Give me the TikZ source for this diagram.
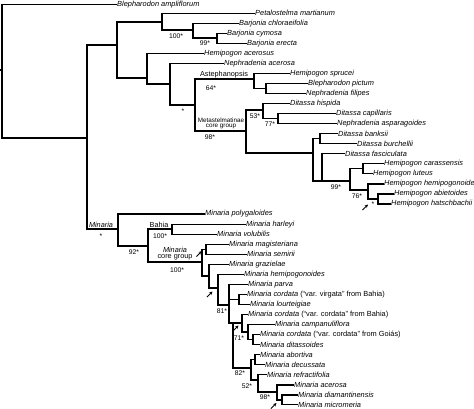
\documentclass[tikz,border=0pt]{standalone}
\usepackage{fontspec}
\setmainfont{Liberation Sans}
\usetikzlibrary{arrows.meta}
\begin{document}
\begin{tikzpicture}[x=1pt,y=-1pt,
  br/.style={line width=1.2pt, line cap=rect, line join=miter},
  leaf/.style={anchor=west, inner sep=1pt, font=\fontsize{7.4}{8}\selectfont\itshape},
  supv/.style={inner sep=0pt, font=\fontsize{6.8}{7}\selectfont},
  grp/.style={inner sep=0pt, font=\fontsize{7.3}{8}\selectfont},
  grpsmall/.style={inner sep=0pt, font=\fontsize{6.3}{7}\selectfont},
  arw/.style={-{Stealth[length=3.4pt,width=3.2pt]}, line width=0.9pt}]
\useasboundingbox (0,0) rectangle (474,408);
% internal nodes
\coordinate (R) at (2,70);
\coordinate (A) at (87,138);
\coordinate (B) at (117,45);
\coordinate (C) at (162,22);
\coordinate (E) at (193,30);
\coordinate (F) at (217,38);
\coordinate (D) at (147,78);
\coordinate (G) at (170,84);
\coordinate (H) at (195,105);
\coordinate (Ast) at (254,79);
\coordinate (I) at (266,88.4);
\coordinate (Met) at (246,131);
\coordinate (J) at (263,110);
\coordinate (Jb) at (278,118.5);
\coordinate (K) at (313,153);
\coordinate (Kb) at (320,138.7);
\coordinate (Kc) at (322,181);
\coordinate (Hm) at (350,181);
\coordinate (Hc) at (363,168.8);
\coordinate (Hd) at (368,190);
\coordinate (He) at (378,199);
\coordinate (Mi) at (118,229);
\coordinate (M92) at (148,246);
\coordinate (Bah) at (172,229);
\coordinate (Core) at (202,262);
\coordinate (Ms) at (206,249.2);
\coordinate (Ng) at (209,276);
\coordinate (Nh) at (218,288);
\coordinate (N81) at (229,305);
\coordinate (Nvl) at (239,299.5);
\coordinate (Nr) at (233,323);
\coordinate (N71) at (242,323);
\coordinate (Ncg) at (248,332);
\coordinate (Ngd) at (253,339.7);
\coordinate (N82) at (251,368);
\coordinate (Nad) at (255,359.8);
\coordinate (N52) at (258,380);
\coordinate (N98) at (277,392);
\coordinate (Ndm) at (282,400);
% leaves
\node[leaf] (L1) at (116,4.3) {Blepharodon ampliflorum};
\node[leaf] (L2) at (254,13.3) {Petalostelma martianum};
\node[leaf] (L3) at (238,23.3) {Barjonia chloraeifolia};
\node[leaf] (L4) at (226,33.3) {Barjonia cymosa};
\node[leaf] (L5) at (246,43.3) {Barjonia erecta};
\node[leaf] (L6) at (203,53.3) {Hemipogon acerosus};
\node[leaf] (L7) at (223,63.3) {Nephradenia acerosa};
\node[leaf] (L8) at (289,73.35) {Hemipogon sprucei};
\node[leaf] (L9) at (307,83.4) {Blepharodon pictum};
\node[leaf] (L10) at (305,93.45) {Nephradenia filipes};
\node[leaf] (L11) at (289,103.5) {Ditassa hispida};
\node[leaf] (L12) at (335,113.55) {Ditassa capillaris};
\node[leaf] (L13) at (336,123.6) {Nephradenia asparagoides};
\node[leaf] (L14) at (337,133.65) {Ditassa banksii};
\node[leaf] (L15) at (356,143.7) {Ditassa burchellii};
\node[leaf] (L16) at (344,153.75) {Ditassa fasciculata};
\node[leaf] (L17) at (383,163.8) {Hemipogon carassensis};
\node[leaf] (L18) at (372,173.85) {Hemipogon luteus};
\node[leaf] (L19) at (383,183.9) {Hemipogon hemipogonoides};
\node[leaf] (L20) at (393,193.95) {Hemipogon abietoides};
\node[leaf] (L21) at (390,204) {Hemipogon hatschbachii};
\node[leaf] (L22) at (204,214.05) {Minaria polygaloides};
\node[leaf] (L23) at (245,224.1) {Minaria harleyi};
\node[leaf] (L24) at (216,234.15) {Minaria volubilis};
\node[leaf] (L25) at (228,244.2) {Minaria magisteriana};
\node[leaf] (L26) at (246,254.25) {Minaria semirii};
\node[leaf] (L27) at (228,264.3) {Minaria grazielae};
\node[leaf] (L28) at (243,274.35) {Minaria hemipogonoides};
\node[leaf] (L29) at (247,284.4) {Minaria parva};
\node[leaf] (L30) at (246,294.45) {Minaria cordata {\upshape(``var. virgata'' from Bahia)}};
\node[leaf] (L31) at (249,304.5) {Minaria lourteigiae};
\node[leaf] (L32) at (247,314.55) {Minaria cordata {\upshape(``var. cordata'' from Bahia)}};
\node[leaf] (L33) at (274,324.6) {Minaria campanuliflora};
\node[leaf] (L34) at (259,334.65) {Minaria cordata {\upshape(``var. cordata'' from Goiás)}};
\node[leaf] (L35) at (259,344.7) {Minaria ditassoides};
\node[leaf] (L36) at (259,354.75) {Minaria abortiva};
\node[leaf] (L37) at (264,364.8) {Minaria decussata};
\node[leaf] (L38) at (266,374.85) {Minaria refractifolia};
\node[leaf] (L39) at (293,384.9) {Minaria acerosa};
\node[leaf] (L40) at (297,394.95) {Minaria diamantinensis};
\node[leaf] (L41) at (297,404.8) {Minaria micromeria};
% branches
\draw[br] (R) -- ++(-2,0);
\draw[br] (R) |- (L1.west); \draw[br] (R) |- (A);
\draw[br] (A) |- (B); \draw[br] (A) |- (Mi);
\draw[br] (B) |- (C); \draw[br] (B) |- (D);
\draw[br] (C) |- (L2.west); \draw[br] (C) |- (E);
\draw[br] (E) |- (L3.west); \draw[br] (E) |- (F);
\draw[br] (F) |- (L4.west); \draw[br] (F) |- (L5.west);
\draw[br] (D) |- (L6.west); \draw[br] (D) |- (G);
\draw[br] (G) |- (L7.west); \draw[br] (G) |- (H);
\draw[br] (H) |- (Ast); \draw[br] (H) |- (Met);
\draw[br] (Ast) |- (L8.west); \draw[br] (Ast) |- (I);
\draw[br] (I) |- (L9.west); \draw[br] (I) |- (L10.west);
\draw[br] (Met) |- (J); \draw[br] (Met) |- (K);
\draw[br] (J) |- (L11.west); \draw[br] (J) |- (Jb);
\draw[br] (Jb) |- (L12.west); \draw[br] (Jb) |- (L13.west);
\draw[br] (K) |- (Kb); \draw[br] (K) |- (Kc);
\draw[br] (Kb) |- (L14.west); \draw[br] (Kb) |- (L15.west);
\draw[br] (Kc) |- (L16.west); \draw[br] (Kc) |- (Hm);
\draw[br] (Hm) |- (Hc); \draw[br] (Hm) |- (Hd);
\draw[br] (Hc) |- (L17.west); \draw[br] (Hc) |- (L18.west);
\draw[br] (Hd) |- (L19.west); \draw[br] (Hd) |- (He);
\draw[br] (He) |- (L20.west); \draw[br] (He) |- (L21.west);
\draw[br] (Mi) |- (L22.west); \draw[br] (Mi) |- (M92);
\draw[br] (M92) |- (Bah); \draw[br] (M92) |- (Core);
\draw[br] (Bah) |- (L23.west); \draw[br] (Bah) |- (L24.west);
\draw[br] (Core) |- (Ms); \draw[br] (Core) |- (Ng);
\draw[br] (Ms) |- (L25.west); \draw[br] (Ms) |- (L26.west);
\draw[br] (Ng) |- (L27.west); \draw[br] (Ng) |- (Nh);
\draw[br] (Nh) |- (L28.west); \draw[br] (Nh) |- (N81);
\draw[br] (N81) |- (L29.west); \draw[br] (N81) |- (Nvl); \draw[br] (N81) |- (Nr);
\draw[br] (Nvl) |- (L30.west); \draw[br] (Nvl) |- (L31.west);
\draw[br] (Nr) |- (N71); \draw[br] (Nr) |- (N82);
\draw[br] (N71) |- (L32.west); \draw[br] (N71) |- (Ncg);
\draw[br] (Ncg) |- (L33.west); \draw[br] (Ncg) |- (Ngd);
\draw[br] (Ngd) |- (L34.west); \draw[br] (Ngd) |- (L35.west);
\draw[br] (N82) |- (Nad); \draw[br] (N82) |- (N52);
\draw[br] (Nad) |- (L36.west); \draw[br] (Nad) |- (L37.west);
\draw[br] (N52) |- (L38.west); \draw[br] (N52) |- (N98);
\draw[br] (N98) |- (L39.west); \draw[br] (N98) |- (Ndm);
\draw[br] (Ndm) |- (L40.west); \draw[br] (Ndm) |- (L41.west);
% support values
\node[supv] (s1) at (176,36) {100*};
\node[supv] (s2) at (205,43) {99*};
\node[supv] (s3) at (183,111) {*};
\node[supv] (s4) at (211,88) {64*};
\node[supv] (s5) at (210,137) {98*};
\node[supv] (s6) at (255,116) {53*};
\node[supv] (s7) at (270,124) {77*};
\node[supv] (s8) at (336,187) {99*};
\node[supv] (s9) at (357,196) {76*};
\node[supv] (s10) at (373,204) {*};
\node[supv] (s11) at (101,236) {*};
\node[supv] (s12) at (134,252) {92*};
\node[supv] (s13) at (160,236) {100*};
\node[supv] (s14) at (177,270) {100*};
\node[supv] (s15) at (222,311) {81*};
\node[supv] (s16) at (239,338) {71*};
\node[supv] (s17) at (240,373) {82*};
\node[supv] (s18) at (247,386) {52*};
\node[supv] (s19) at (265,397) {98*};
% group labels
\node[grp] (g1) at (224,74.5) {Astephanopsis};
\node[grpsmall] (g2) at (221,120) {Metastelmatinae};
\node[grpsmall] (g3) at (221,126.5) {core group};
\node[grp] (g4) at (101,224.5) {\itshape Minaria};
\node[grp] (g5) at (159,224.5) {Bahia};
\node[grp] (g6) at (175,249.5) {\itshape Minaria};
\node[grp] (g7) at (175,257) {core group};
% arrows
\coordinate (a1t) at (362.5,210); \coordinate (a1h) at (368,204.5);
\coordinate (a2t) at (196.5,256.5); \coordinate (a2h) at (202,251);
\coordinate (a3t) at (207,297); \coordinate (a3h) at (212.5,291.5);
\coordinate (a4t) at (233,331); \coordinate (a4h) at (238.5,325.5);
\coordinate (a5t) at (271,408.5); \coordinate (a5h) at (276.5,403);
\draw[arw] (a1t) -- (a1h);
\draw[arw] (a2t) -- (a2h);
\draw[arw] (a3t) -- (a3h);
\draw[arw] (a4t) -- (a4h);
\draw[arw] (a5t) -- (a5h);
\end{tikzpicture}
\end{document}
